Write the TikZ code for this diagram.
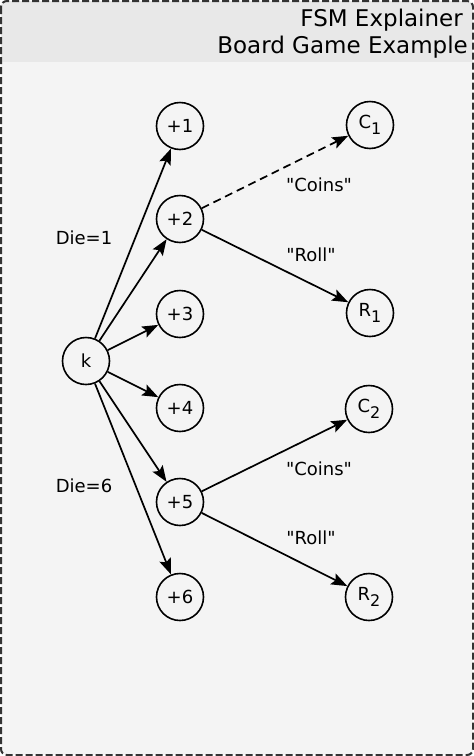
\documentclass[tikz,border=0pt]{standalone}
\usepackage{fontspec}
\setmainfont{DejaVu Sans}
\newfontfamily\dvplain{DejaVu Sans}
\usetikzlibrary{arrows.meta}
\definecolor{bodybg}{HTML}{F4F4F4}
\definecolor{headbg}{HTML}{E8E8E8}
\definecolor{framec}{HTML}{333333}
\newcommand\mysub[1]{\raisebox{-0.55ex}{\fontsize{16}{16}\selectfont #1}}
\begin{document}
\begin{tikzpicture}[x=1pt,y=-1pt,
  state/.style={circle,draw,line width=1.6pt,fill=bodybg,minimum size=47pt,inner sep=0pt,font=\dvplain\fontsize{18}{20}\selectfont},
  edge/.style={line width=1.7pt,-{Stealth[length=16pt,width=12pt,inset=3pt]}},
  lbl/.style={font=\dvplain\fontsize{18}{20}\selectfont,inner sep=0pt},
  ttl/.style={font=\dvplain\fontsize{23}{26}\selectfont,inner sep=0pt,anchor=base east},
]
\useasboundingbox (0,0) rectangle (474,756);
% background
\fill[bodybg,rounded corners=6pt] (1,1) rectangle (473,755);
\fill[headbg,rounded corners=6pt] (1,1) rectangle (473,40);
\fill[headbg] (1,30) rectangle (473,62);
\draw[framec,line width=2pt,dash pattern=on 7pt off 3pt,rounded corners=6pt] (1,1) rectangle (473,755);
% title
\node[ttl] (t1) at (463,26) {FSM Explainer};
\node[ttl] (t2) at (468,53) {Board Game Example};
% states
\node[state] (k) at (86,361) {k};
\node[state] (p1) at (180,126) {+1};
\node[state] (p2) at (180,219) {+2};
\node[state] (p3) at (180,314) {+3};
\node[state] (p4) at (180,408) {+4};
\node[state] (p5) at (180,502) {+5};
\node[state] (p6) at (180,597) {+6};
\node[state] (c1) at (370,125) {C\mysub{1}};
\node[state] (r1) at (370,313) {R\mysub{1}};
\node[state] (c2) at (369,409) {C\mysub{2}};
\node[state] (r2) at (369,597) {R\mysub{2}};
% edges
\foreach \t in {p1,p2,p3,p4,p5,p6} \draw[edge] (k) -- (\t);
\draw[edge,dash pattern=on 8pt off 5pt] (p2) -- (c1);
\draw[edge] (p2) -- (r1);
\draw[edge] (p5) -- (c2);
\draw[edge] (p5) -- (r2);
% labels
\node[lbl] (d1) at (84,238) {Die=1};
\node[lbl] (d6) at (84,486) {Die=6};
\node[lbl] (co1) at (319,185) {"Coins"};
\node[lbl] (ro1) at (311,255) {"Roll"};
\node[lbl] (co2) at (319,469) {"Coins"};
\node[lbl] (ro2) at (311,538) {"Roll"};
\end{tikzpicture}
\end{document}
